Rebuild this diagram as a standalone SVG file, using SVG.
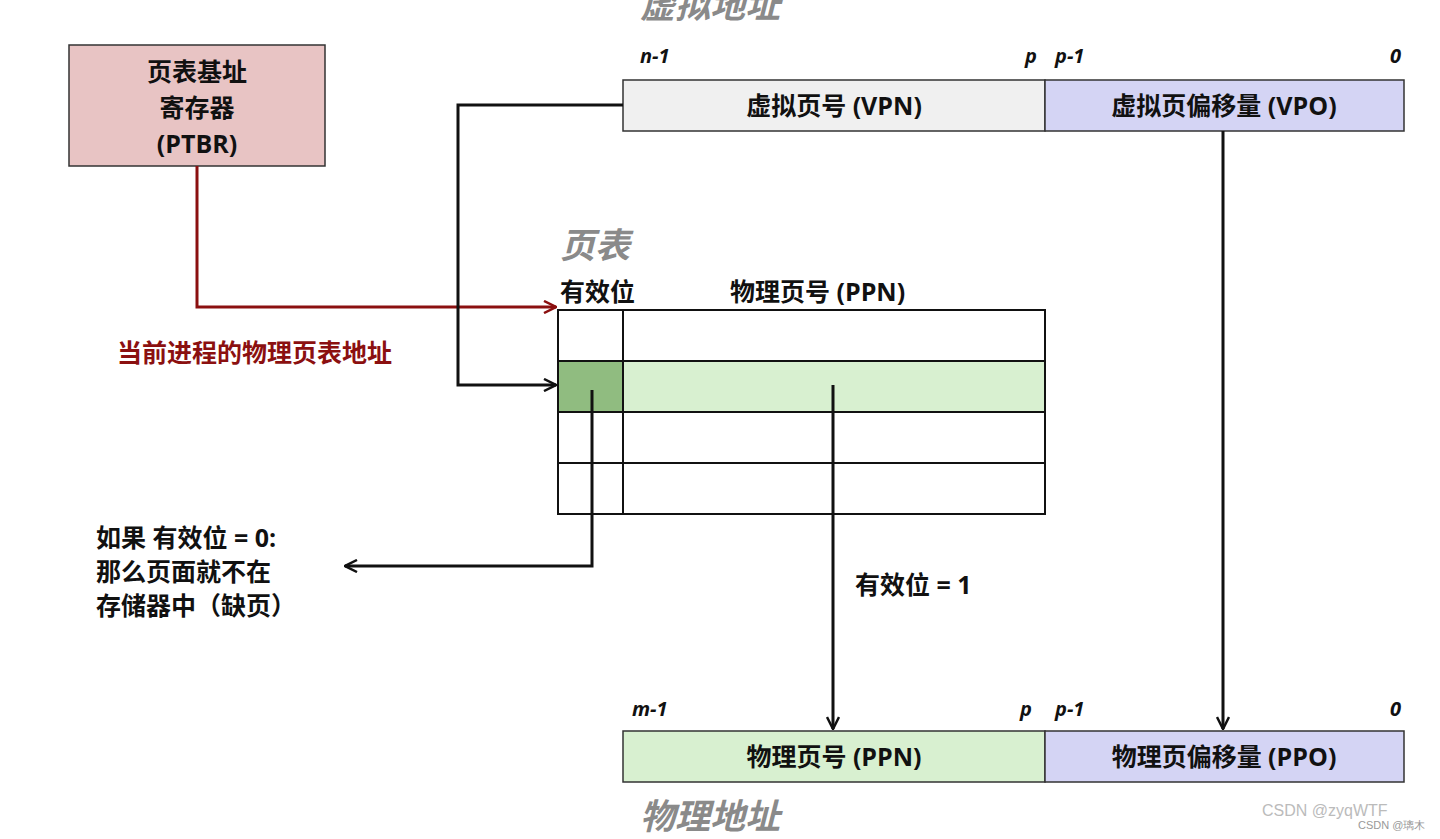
<svg xmlns="http://www.w3.org/2000/svg" width="1440" height="839" viewBox="0 0 1440 839">
<style>
text{font-family:"Open Sans","Noto Sans CJK SC",sans-serif;font-weight:bold;fill:#111}
.b{font-size:25px}
.s{font-size:20px;font-style:italic}
.t{font-size:35px;font-style:italic;fill:#8a8a8a}
.box{stroke:#333;stroke-width:1.5}
.ln{fill:none;stroke:#111;stroke-width:3}
.wm{font-family:"Liberation Sans",sans-serif;font-weight:normal;fill:#bbb}
</style>
<defs>
<marker id="ab" viewBox="0 0 14 14" refX="13" refY="7" markerWidth="14" markerHeight="14" markerUnits="userSpaceOnUse" orient="auto"><path d="M1,1 L13,7 L1,13" fill="none" stroke="#111" stroke-width="2.5"/></marker>
<marker id="ar" viewBox="0 0 14 14" refX="13" refY="7" markerWidth="14" markerHeight="14" markerUnits="userSpaceOnUse" orient="auto"><path d="M1,1 L13,7 L1,13" fill="none" stroke="#8b1010" stroke-width="2.5"/></marker>
</defs>
<rect width="1440" height="839" fill="#fff"/>
<text class="t" x="640" y="18">虚拟地址</text>
<g id="ptbr"><rect class="box" x="69" y="45" width="256" height="121" fill="#e8c4c4"/>
<text class="b" x="197" y="81" text-anchor="middle">页表基址</text>
<text class="b" x="197" y="117" text-anchor="middle">寄存器</text>
<text class="b" x="197" y="153" text-anchor="middle">(PTBR)</text></g>
<g id="va">
<rect class="box" x="623" y="80" width="422" height="51" fill="#f0f0f0"/>
<rect class="box" x="1045" y="80" width="359" height="51" fill="#d4d4f4"/>
<text class="b" x="834" y="115" text-anchor="middle">虚拟页号 (VPN)</text>
<text class="b" x="1224" y="115" text-anchor="middle">虚拟页偏移量 (VPO)</text>
<text class="s" x="640" y="63">n-1</text><text class="s" x="1025" y="63">p</text><text class="s" x="1055" y="63">p-1</text><text class="s" x="1390" y="63">0</text>
</g>
<g id="pagetable">
<text class="t" x="560" y="258">页表</text>
<text class="b" x="560" y="301">有效位</text>
<text class="b" x="730" y="301">物理页号 (PPN)</text>
<rect x="558" y="361" width="65" height="51" fill="#90bc80"/>
<rect x="623" y="361" width="422" height="51" fill="#d8f0d0"/>
<rect x="558" y="310" width="487" height="204" fill="none" stroke="#111" stroke-width="2"/>
<path d="M558,361H1045M558,412H1045M558,463H1045M623,310V514" stroke="#111" stroke-width="2"/>
</g>
<g id="pa">
<rect class="box" x="623" y="731" width="422" height="51" fill="#d8f0d0"/>
<rect class="box" x="1045" y="731" width="359" height="51" fill="#d4d4f4"/>
<text class="b" x="834" y="766" text-anchor="middle">物理页号 (PPN)</text>
<text class="b" x="1224" y="766" text-anchor="middle">物理页偏移量 (PPO)</text>
<text class="s" x="632" y="716">m-1</text><text class="s" x="1020" y="716">p</text><text class="s" x="1055" y="716">p-1</text><text class="s" x="1390" y="716">0</text>
</g>
<text class="t" x="640" y="829">物理地址</text>
<g id="labels">
<text class="b" x="117" y="362" style="fill:#8b1010">当前进程的物理页表地址</text>
<text class="b" x="96" y="547">如果 有效位 = 0:</text>
<text class="b" x="96" y="581">那么页面就不在</text>
<text class="b" x="96" y="615">存储器中（缺页）</text>
<text class="b" x="855" y="594">有效位 = 1</text>
</g>
<g id="connectors">
<path d="M197,166V307H556" fill="none" stroke="#8b1010" stroke-width="3" marker-end="url(#ar)"/>
<path class="ln" d="M623,105H458V385H556" marker-end="url(#ab)"/>
<path class="ln" d="M592,390V566H345" marker-end="url(#ab)"/>
<path class="ln" d="M833,385V729" marker-end="url(#ab)"/>
<path class="ln" d="M1223,131V729" marker-end="url(#ab)"/>
</g>
<text class="wm" x="1262" y="816" font-size="16">CSDN @zyqWTF</text>
<text class="wm" x="1358" y="829" font-size="11" style="fill:#999">CSDN @璃木</text>
</svg>
